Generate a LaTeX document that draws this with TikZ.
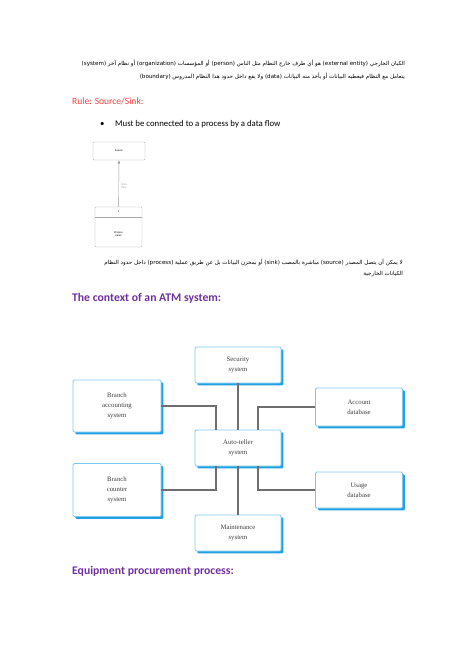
\documentclass[tikz,border=0pt]{standalone}
\usepackage{fontspec}
\setmainfont{Carlito}
\newfontfamily\diagfont{Liberation Serif}
\newfontfamily\arabicfont[Script=Arabic]{DejaVu Sans}
\TeXXeTstate=1
\usetikzlibrary{positioning,calc,shadows}
\definecolor{headpurple}{HTML}{7030A0}
\definecolor{rulered}{RGB}{250,60,60}
\definecolor{boxline}{RGB}{125,200,240}
\definecolor{boxshade}{RGB}{35,160,225}
\definecolor{linkgray}{RGB}{110,110,110}
\newlength\pxu
\setlength\pxu{1.255pt}
\tikzset{
  heading/.style={anchor=west, inner sep=0pt, font=\fontsize{14.7}{16}\selectfont\bfseries, text=headpurple},
  rtlline/.style={anchor=east, inner sep=0pt, font=\arabicfont\fontsize{7}{8}\selectfont},
  dfdbox/.style={draw=gray!70, rounded corners=1pt, line width=0.5pt, inner sep=0pt, font=\fontsize{3.5}{4}\selectfont, align=center},
  sysbox/.style={draw=boxline, fill=white, line width=1.1pt, rounded corners=1.5pt,
    drop shadow={shadow xshift=2.4\pxu, shadow yshift=-2.4\pxu, fill=boxshade, opacity=1},
    inner sep=0pt, align=center, font=\diagfont\fontsize{8.5}{12.5}\selectfont, text=black!75},
  link/.style={draw=linkgray, line width=1.4pt},
}
\begin{document}
\begin{tikzpicture}[x=\pxu, y=-\pxu]
\useasboundingbox (0,0) rectangle (474,670);

% text above
\node[rtlline] (ar1) at (405,63) {\beginR الكيان الخارجي \beginL(external entity)\endL{} هو أي طرف خارج النظام مثل الناس \beginL(person)\endL{} أو المؤسسات \beginL(organization)\endL{} أو نظام آخر \beginL(system)\endL\endR};
\node[rtlline] (ar2) at (405,76) {\beginR يتعامل مع النظام فيعطيه البيانات أو يأخذ منه البيانات \beginL(data)\endL{} ولا يقع داخل حدود هذا النظام المدروس \beginL(boundary)\endL\endR};
\node[anchor=west, inner sep=0pt, text=rulered, font=\fontsize{12}{14}\selectfont] (rule) at (72,101) {Rule: Source/Sink:};
\node[anchor=west, inner sep=0pt, font=\fontsize{11}{13}\selectfont] (bul) at (100,124) {\textbullet};
\node[anchor=west, inner sep=0pt, font=\fontsize{11}{13}\selectfont] (must) at (115,124) {Must be connected to a process by a data flow};

% source/sink and process
\node[dfdbox, minimum width=52\pxu, minimum height=18\pxu] (src) at (119,151) {Source};
\node[dfdbox, minimum width=47\pxu, minimum height=40\pxu] (proc) at (118.5,227) {};
\draw[gray!70, line width=0.5pt] ($(proc.north west)+(0,10)$) -- ($(proc.north east)+(0,10)$);
\node[font=\fontsize{3.5}{4}\selectfont, inner sep=0pt] (pid) at (118.5,212) {1};
\node[font=\fontsize{3.5}{4}\selectfont, inner sep=0pt, align=center] (pname) at (118.5,234) {Process\\name};
\draw[gray!80, line width=0.5pt, -{latex}] (proc) -- (src) node[pos=0.45, right, font=\fontsize{3.5}{4}\selectfont, align=left] {Data\\flow};

\node[rtlline] (ar3) at (403,262) {\beginR لا يمكن أن يتصل المصدر \beginL(source)\endL{} مباشرة بالمصب \beginL(sink)\endL{} أو بمخزن البيانات بل عن طريق عملية \beginL(process)\endL{} داخل حدود النظام\endR};
\node[rtlline] (ar4) at (403,274) {\beginR الكيانات الخارجية\endR};

\node[heading] (ctx) at (72,298) {The context of an ATM system:};

% ATM context
\node[sysbox, minimum width=86\pxu, minimum height=36\pxu] (sec) at (238,365) {Security\\system};
\node[sysbox, minimum width=88\pxu, minimum height=52\pxu] (bacc) at (117,406) {Branch\\accounting\\system};
\node[sysbox, minimum width=87\pxu, minimum height=38\pxu] (acdb) at (359,407) {Account\\database};
\node[sysbox, minimum width=86\pxu, minimum height=36\pxu] (atm) at (238,448) {Auto-teller\\system};
\node[sysbox, minimum width=88\pxu, minimum height=53\pxu] (bcnt) at (117,490) {Branch\\counter\\system};
\node[sysbox, minimum width=87\pxu, minimum height=36\pxu] (usdb) at (359,490) {Usage\\database};
\node[sysbox, minimum width=86\pxu, minimum height=36\pxu] (maint) at (238,533) {Maintenance\\system};

\draw[link] (sec) -- (atm);
\draw[link] (atm) -- (maint);
\draw[link] (bacc.east) -| ($(atm.north)+(-22,0)$);
\draw[link] (acdb.west) -| ($(atm.north)+(20,0)$);
\draw[link] (bcnt.east) -| ($(atm.south)+(-22,0)$);
\draw[link] (usdb.west) -| ($(atm.south)+(20,0)$);

\node[heading] (equip) at (72,571) {Equipment procurement process:};
\end{tikzpicture}
\end{document}
